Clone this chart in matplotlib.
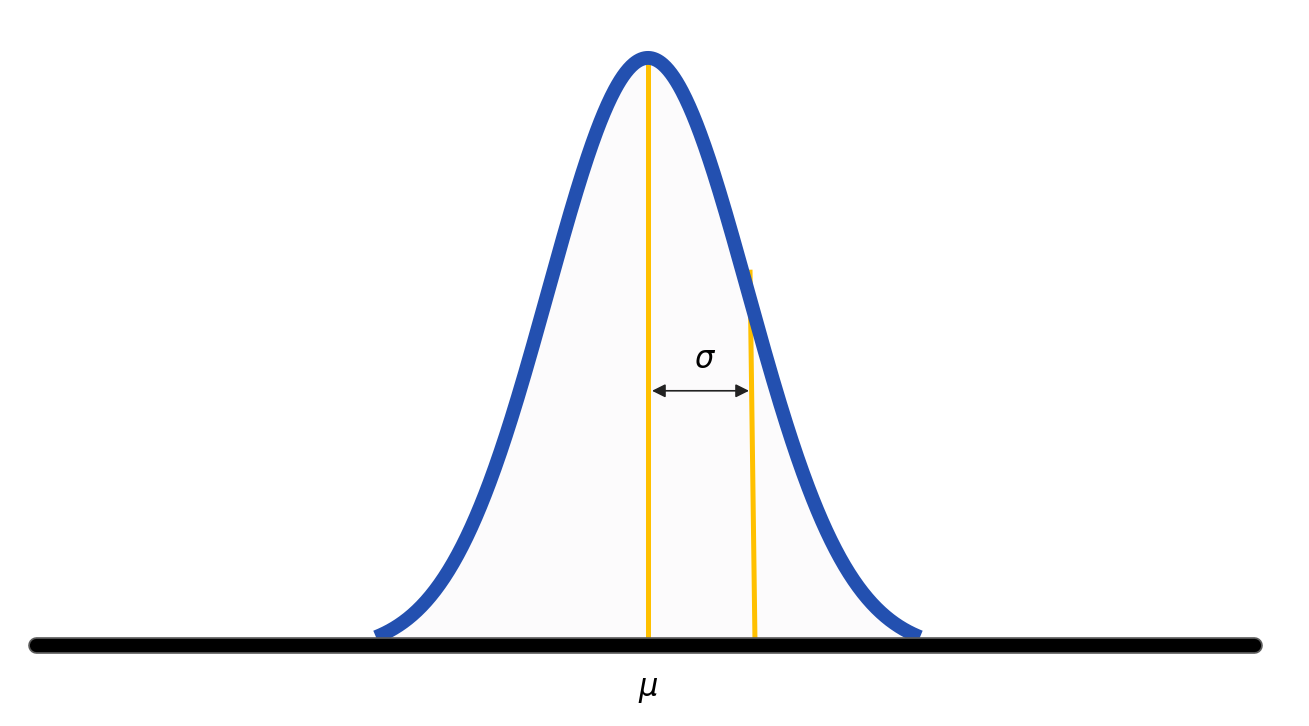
import numpy as np
import matplotlib.pyplot as plt
from matplotlib.patches import FancyArrowPatch

# distribution parameters (drawing units: sigma = 100 px)
mu = 0.0
sigma = 1.0
tail = 2.72          # curve drawn out to +- this many sigma
floor = 0.015        # small offset so the tails sit on the baseline
sigma_top = 0.638    # height where the sigma marker meets the curve
sigma_foot = 1.07    # the sigma marker leans slightly outward at the base

blue = '#2350B0'
gold = '#FFC000'


def main():
    fig = plt.figure(figsize=(13.09, 7.26), dpi=100)
    ax = fig.add_axes([0, 0, 1, 1])
    ax.set_xlim(-6.48, 6.61)
    ax.set_ylim(-0.142, 1.099)
    ax.axis('off')

    x = np.linspace(mu - tail * sigma, mu + tail * sigma, 600)
    g = np.exp(-0.5 * ((x - mu) / sigma) ** 2)
    y = (g - floor) / (1 - floor)

    ax.fill_between(x, 0, y, color='#fcfbfc', zorder=1)

    # mean and sigma markers
    ax.plot([mu, mu], [0, 0.997], color=gold, lw=3.6, zorder=2, solid_capstyle='butt')
    ax.plot([mu + sigma_foot * sigma, mu + 1.02 * sigma], [0, sigma_top],
            color=gold, lw=3.6, zorder=2, solid_capstyle='butt')

    ax.plot(x, y, color=blue, lw=10, zorder=3, solid_capstyle='butt')

    # baseline
    ax.plot([-6.12, 6.06], [-0.004, -0.004], color='#5a5a5a', lw=12,
            solid_capstyle='round', zorder=4)
    ax.plot([-6.12, 6.06], [-0.004, -0.004], color='black', lw=9.5,
            solid_capstyle='round', zorder=5)

    arr = FancyArrowPatch((mu + 0.04, 0.431), (mu + 1.01 * sigma, 0.431),
                          arrowstyle='<|-|>', mutation_scale=20, color='#222222',
                          lw=1.2, shrinkA=0, shrinkB=0, zorder=6)
    ax.add_patch(arr)

    ax.text(mu + 0.57 * sigma, 0.485, r'$\sigma$', fontsize=22, ha='center', va='center')
    ax.text(mu, -0.082, r'$\mu$', fontsize=22, ha='center', va='center')

    fig.savefig('out.png', dpi=100)


if __name__ == '__main__':
    main()
